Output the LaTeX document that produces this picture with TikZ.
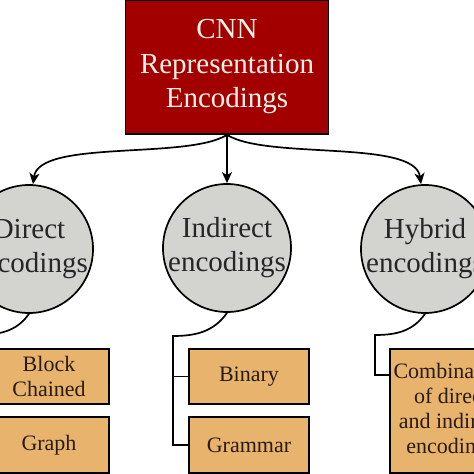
\documentclass[tikz,border=0pt]{standalone}
\usepackage{fontspec}
\setmainfont{Liberation Serif}
\usepackage{tikz}
\usetikzlibrary{shapes}
\usetikzlibrary{arrows.meta}
\tikzset{node distance=2cm, auto}
\definecolor{titlered}{RGB}{162,0,0}
\definecolor{titletext}{RGB}{255,242,232}
\definecolor{circlegray}{RGB}{211,211,208}
\definecolor{leaforange}{RGB}{232,179,108}
\definecolor{leaftext}{RGB}{40,28,15}

\begin{document}
\begin{tikzpicture}[x=1pt,y=1pt,line width=1.7pt,
  titlebox/.style={draw=black, fill=titlered, text=titletext, rectangle, minimum width=203pt, minimum height=134pt, align=center, font=\fontsize{29}{34.5}\selectfont},
  enccircle/.style={draw=black, fill=circlegray, text=black!85, circle, minimum size=128pt, inner sep=-8pt, align=center, font=\fontsize{29}{34}\selectfont},
  leafbox/.style={draw=black, fill=leaforange, text=leaftext, rectangle, minimum width=120pt, minimum height=55pt, align=center, font=\fontsize{22}{24.5}\selectfont},
  tip/.style={-{Stealth[length=11pt,width=10pt,inset=3pt]}}]
\useasboundingbox (0,0) rectangle (474,-474);
\clip (0,0) rectangle (474,-474);

\node[titlebox] (cnn) at (227,-67) {CNN\\Representation\\Encodings};
\node[enccircle] (direct) at (29,-249) {Direct\\encodings};
\node[enccircle] (indirect) at (227,-248) {Indirect\\encodings};
\node[enccircle] (hybrid) at (425,-249) {Hybrid\\encodings};

\node[leafbox] (block) at (49,-376.5) {Block\\Chained};
\node[leafbox, minimum height=56pt] (graph) at (49,-445) {Graph};
\node[leafbox] (binary) at (249,-376.5) {Binary};
\node[leafbox, minimum height=56pt] (grammar) at (249,-445) {Grammar};
\node[leafbox, minimum width=118pt, minimum height=124pt, font=\fontsize{22}{25}\selectfont] (combo) at (451,-411) {Combination\\of direct\\and indirect\\encodings};

\draw[tip] (cnn.south) -- (indirect.north);
\draw[tip] (cnn.south) .. controls +(-40,-25) and +(6,45) .. ([xshift=4pt]direct.north);
\draw[tip] (cnn.south) .. controls +(40,-25) and +(-6,45) .. ([xshift=-4pt]hybrid.north);

\coordinate (directbend) at (-25,-335);
\coordinate (indirectbend) at (173,-336);
\coordinate (hybridbend) at (375,-335);
\draw (direct.south) to[out=235,in=0] (directbend) |- (graph.west);
\draw (directbend |- block.west) -- (block.west);
\draw (indirect.south) to[out=235,in=0] (indirectbend) |- (grammar.west);
\draw (indirectbend |- binary.west) -- (binary.west);
\draw (hybrid.south) to[out=235,in=0] (hybridbend) |- ([yshift=36pt]combo.west);

\end{tikzpicture}
\end{document}
